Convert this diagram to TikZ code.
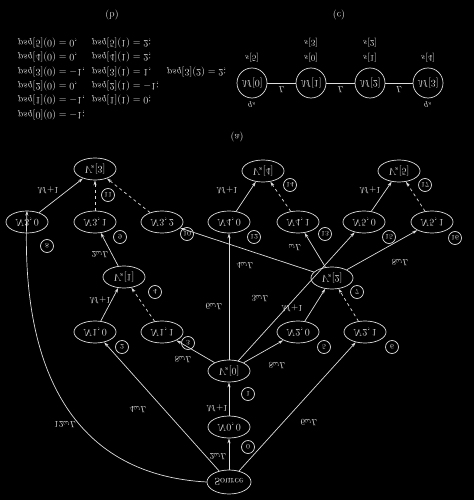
\documentclass[tikz,border=0pt]{standalone}
\usetikzlibrary{shapes.geometric,arrows.meta}
\definecolor{fg}{RGB}{222,222,222}
\begin{document}
\begin{tikzpicture}[x=1pt,y=1pt,yscale=-1,
  every node/.append style={transform shape, text=fg},
  nd/.style={ellipse, draw=fg, line width=0.7pt, minimum width=42pt, minimum height=22pt, inner sep=0pt},
  src/.style={nd, minimum width=44pt, minimum height=24pt},
  mc/.style={circle, draw=fg, line width=0.7pt, minimum size=30pt, inner sep=0pt},
  num/.style={circle, draw=fg, line width=0.7pt, minimum size=13pt, inner sep=0pt, font=\scriptsize},
  lbl/.style={font=\small, inner sep=1pt},
  row/.style={anchor=west, inner sep=0pt},
  arr/.style={draw=fg, line width=0.7pt, -{Stealth[length=5pt,width=3pt]}},
  darr/.style={arr, dashed},
  plain/.style={draw=fg, line width=0.7pt}]
\fill[black] (0,0) rectangle (474,500);
\useasboundingbox (0,0) rectangle (474,500);
% ---------- panel (b)
\node (capb) at (112,15) {(b)};
\node[row] (b50) at (18,43) {$psq[5](0) = 0,$};
\node[row] (b51) at (92,43) {$psq[5](1) = 2;$};
\node[row] (b40) at (18,57) {$psq[4](0) = 0,$};
\node[row] (b41) at (92,57) {$psq[4](1) = 2;$};
\node[row] (b30) at (18,72) {$psq[3](0) = -1,$};
\node[row] (b31) at (92,72) {$psq[3](1) = 1,$};
\node[row] (b32) at (167,72) {$psq[3](2) = 2;$};
\node[row] (b20) at (18,86) {$psq[2](0) = 0,$};
\node[row] (b21) at (92,86) {$psq[2](1) = -1;$};
\node[row] (b10) at (18,100) {$psq[1](0) = -1,$};
\node[row] (b11) at (92,100) {$psq[1](1) = 0;$};
\node[row] (b00) at (18,115) {$psq[0](0) = -1;$};
% ---------- panel (c)
\node (capc) at (339,15) {(c)};
\node[mc] (M0) at (252,83) {$M[0]$};
\node[mc] (M1) at (311,83) {$M[1]$};
\node[mc] (M2) at (370,83) {$M[2]$};
\node[mc] (M3) at (428,83) {$M[3]$};
\draw[plain] (M0) -- node[lbl, pos=0.5, yshift=7pt] (l01) {$L$} (M1);
\draw[plain] (M1) -- node[lbl, pos=0.5, yshift=7pt] (l12) {$L$} (M2);
\draw[plain] (M2) -- node[lbl, pos=0.5, yshift=7pt] (l23) {$L$} (M3);
\node[lbl] (s5) at (252,58) {$s[5]$};
\node[lbl] (s0) at (311,58) {$s[0]$};
\node[lbl] (s3) at (311,43) {$s[3]$};
\node[lbl] (s1) at (370,58) {$s[1]$};
\node[lbl] (s2) at (370,43) {$s[2]$};
\node[lbl] (s4) at (428,58) {$s[4]$};
\node[lbl] (q0) at (252,105) {$q_s$};
\node[lbl] (q3) at (428,105) {$q_s$};
% ---------- panel (a)
\node (capa) at (237,137) {(a)};
\node[src] (S) at (229,482) {Source};
\node[nd] (N00) at (229,427) {$N0,0$};
\node[nd] (V0) at (229,371) {$V_s[0]$};
\node[nd] (N10) at (95,332) {$N1,0$};
\node[nd] (N11) at (162,332) {$N1,1$};
\node[nd] (N20) at (298,332) {$N2,0$};
\node[nd] (N21) at (365,332) {$N2,1$};
\node[nd] (V1) at (124,277) {$V_s[1]$};
\node[nd] (V2) at (332,278) {$V_s[2]$};
\node[nd] (N30) at (27,222) {$N3,0$};
\node[nd] (N31) at (95,222) {$N3,1$};
\node[nd] (N32) at (162,222) {$N3,2$};
\node[nd] (N40) at (229,222) {$N4,0$};
\node[nd] (N41) at (298,222) {$N4,1$};
\node[nd] (N50) at (364,222) {$N5,0$};
\node[nd] (N51) at (432,222) {$N5,1$};
\node[nd] (V3) at (95,169) {$V_s[3]$};
\node[nd] (V4) at (263,171) {$V_s[4]$};
\node[nd] (V5) at (399,171) {$V_s[5]$};
% numbers
\node[num] (c0) at (248,447) {0};
\node[num] (c1) at (248,394) {1};
\node[num] (c2) at (122,347) {2};
\node[num] (c3) at (188,343) {3};
\node[num] (c4) at (155,292) {4};
\node[num] (c5) at (324,347) {5};
\node[num] (c6) at (392,347) {6};
\node[num] (c7) at (357,292) {7};
\node[num] (c8) at (47,246) {8};
\node[num] (c9) at (120,237) {9};
\node[num] (c10) at (187,234) {10};
\node[num] (c11) at (108,195) {11};
\node[num] (c12) at (254,237) {12};
\node[num] (c13) at (325,234) {13};
\node[num] (c14) at (290,185) {14};
\node[num] (c15) at (389,237) {15};
\node[num] (c16) at (455,238) {16};
\node[num] (c17) at (425,185) {17};
% edges
\draw[arr] (S) -- (N00);
\draw[arr] (N00) -- (V0);
\draw[arr] (S.west) .. controls (80,475) and (20,380) .. (N30.south);
\draw[arr] (S) -- (N10);
\draw[arr] (S) -- (N21);
\draw[arr] (V0) -- (N11);
\draw[arr] (V0) -- (N20);
\draw[arr] (V0) -- (N40);
\draw[arr] (V0) -- (N50);
\draw[arr] (N10) -- (V1);
\draw[darr] (N11) -- (V1);
\draw[arr] (N20) -- (V2);
\draw[darr] (N21) -- (V2);
\draw[arr] (V1) -- (N31);
\draw[arr] (V2) -- (N32);
\draw[arr] (V2) -- (N41);
\draw[arr] (V2) -- (N51);
\draw[arr] (N30) -- (V3);
\draw[darr] (N31) -- (V3);
\draw[darr] (N32) -- (V3);
\draw[arr] (N40) -- (V4);
\draw[darr] (N41) -- (V4);
\draw[arr] (N50) -- (V5);
\draw[darr] (N51) -- (V5);
% edge labels
\node[lbl] (e1) at (218,457) {$2\omega L$};
\node[lbl] (e2) at (217,408) {$M{+}1$};
\node[lbl] (e3) at (65,425) {$12\omega L$};
\node[lbl] (e4) at (138,410) {$4\omega L$};
\node[lbl] (e5) at (309,423) {$6\omega L$};
\node[lbl] (e6) at (183,360) {$8\omega L$};
\node[lbl] (e7) at (214,307) {$6\omega L$};
\node[lbl] (e8) at (277,366) {$8\omega L$};
\node[lbl] (e9) at (260,299) {$3\omega L$};
\node[lbl] (e10) at (245,266) {$4\omega L$};
\node[lbl] (e11) at (295,248) {$\omega L$};
\node[lbl] (e12) at (400,263) {$8\omega L$};
\node[lbl] (e13) at (100,255) {$2\omega L$};
\node[lbl] (e14) at (100,300) {$M{+}1$};
\node[lbl] (e15) at (292,308) {$M{+}1$};
\node[lbl] (e16) at (48,190) {$M{+}1$};
\node[lbl] (e17) at (227,190) {$M{+}1$};
\node[lbl] (e18) at (370,190) {$M{+}1$};
\end{tikzpicture}
\end{document}
